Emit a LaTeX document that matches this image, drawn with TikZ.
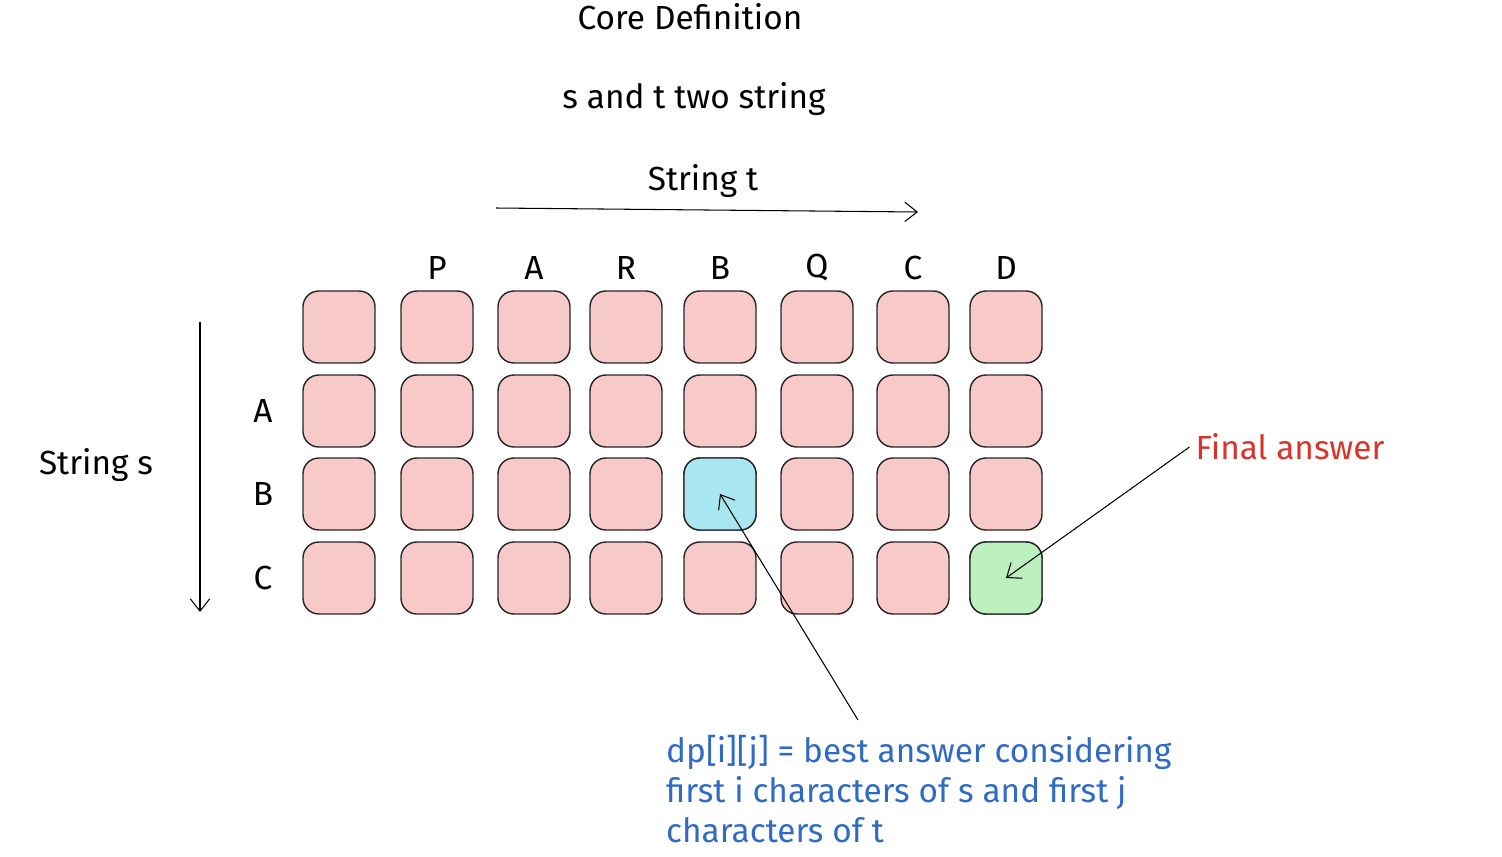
\documentclass[tikz,border=0pt]{standalone}
\usepackage{fontspec}
\setmainfont{Fira Sans}
\usetikzlibrary{arrows.meta}
\definecolor{cellpink}{HTML}{F7C9C9}
\definecolor{cellcyan}{HTML}{A8E6F0}
\definecolor{cellgreen}{HTML}{BDF0BF}
\definecolor{notered}{HTML}{D9342B}
\definecolor{noteblue}{HTML}{2F6BC4}
\tikzset{
	cell/.style={rectangle, rounded corners=9pt, draw=black!85, thick, fill=cellpink, minimum size=1.44cm, inner sep=0pt},
	lbl/.style={font=\fontsize{19}{23}\selectfont},
	arr/.style={-{Straight Barb[length=7pt,width=11pt]}, semithick},
}
\begin{document}
\begin{tikzpicture}[x=0.02cm,y=-0.02cm]

	\useasboundingbox (0,0) rectangle (1502,856);

	\node	(title)	at	(690,17)	[lbl]{Core Definition};
	\node	(sub)	at	(694,99)	[lbl]{s and t two string};
	\node	(st)	at	(703,181)	[lbl]{String t};
	\node	(ss)	at	(96,465)	[lbl]{String s};

	\coordinate	(t0)	at	(496,208);
	\coordinate	(t1)	at	(918,212);
	\coordinate	(s0)	at	(200,322);
	\coordinate	(s1)	at	(200,612);
	\draw[arr]	(t0)	--	(t1);
	\draw[arr]	(s0)	--	(s1);

	% grid of cells
	\foreach \r/\y in {0/327,1/411,2/494,3/578}{
		\foreach \c/\x in {0/339,1/437,2/534,3/626,4/720,5/817,6/913,7/1006}{
			\node	(c-\r-\c)	at	(\x,\y)	[cell]{};
		}
	}
	\node	at	(c-2-4)	[cell, fill=cellcyan]{};
	\node	at	(c-3-7)	[cell, fill=cellgreen]{};

	\foreach \c/\t in {1/P,2/A,3/R,4/B,5/Q,6/C,7/D}{
		\node	(col-\c)	at	([yshift=1.18cm]c-0-\c)	[lbl]{\t};
	}
	\foreach \r/\t in {1/A,2/B,3/C}{
		\node	(row-\r)	at	(263,0 |- c-\r-0)	[lbl]{\t};
	}

	\node	(final)	at	(1290,447)	[lbl, text=notered]{Final answer};
	\draw[arr]	(final.west)	--	(c-3-7.center);

	\node	(dp)	at	(660,789)	[lbl, text=noteblue, anchor=west, align=left]{dp[i][j] = best answer considering\\first i characters of s and first j\\characters of t};
	\coordinate	(dptip)	at	(858,720);
	\draw[arr]	(dptip)	--	(c-2-4.center);

\end{tikzpicture}
\end{document}
